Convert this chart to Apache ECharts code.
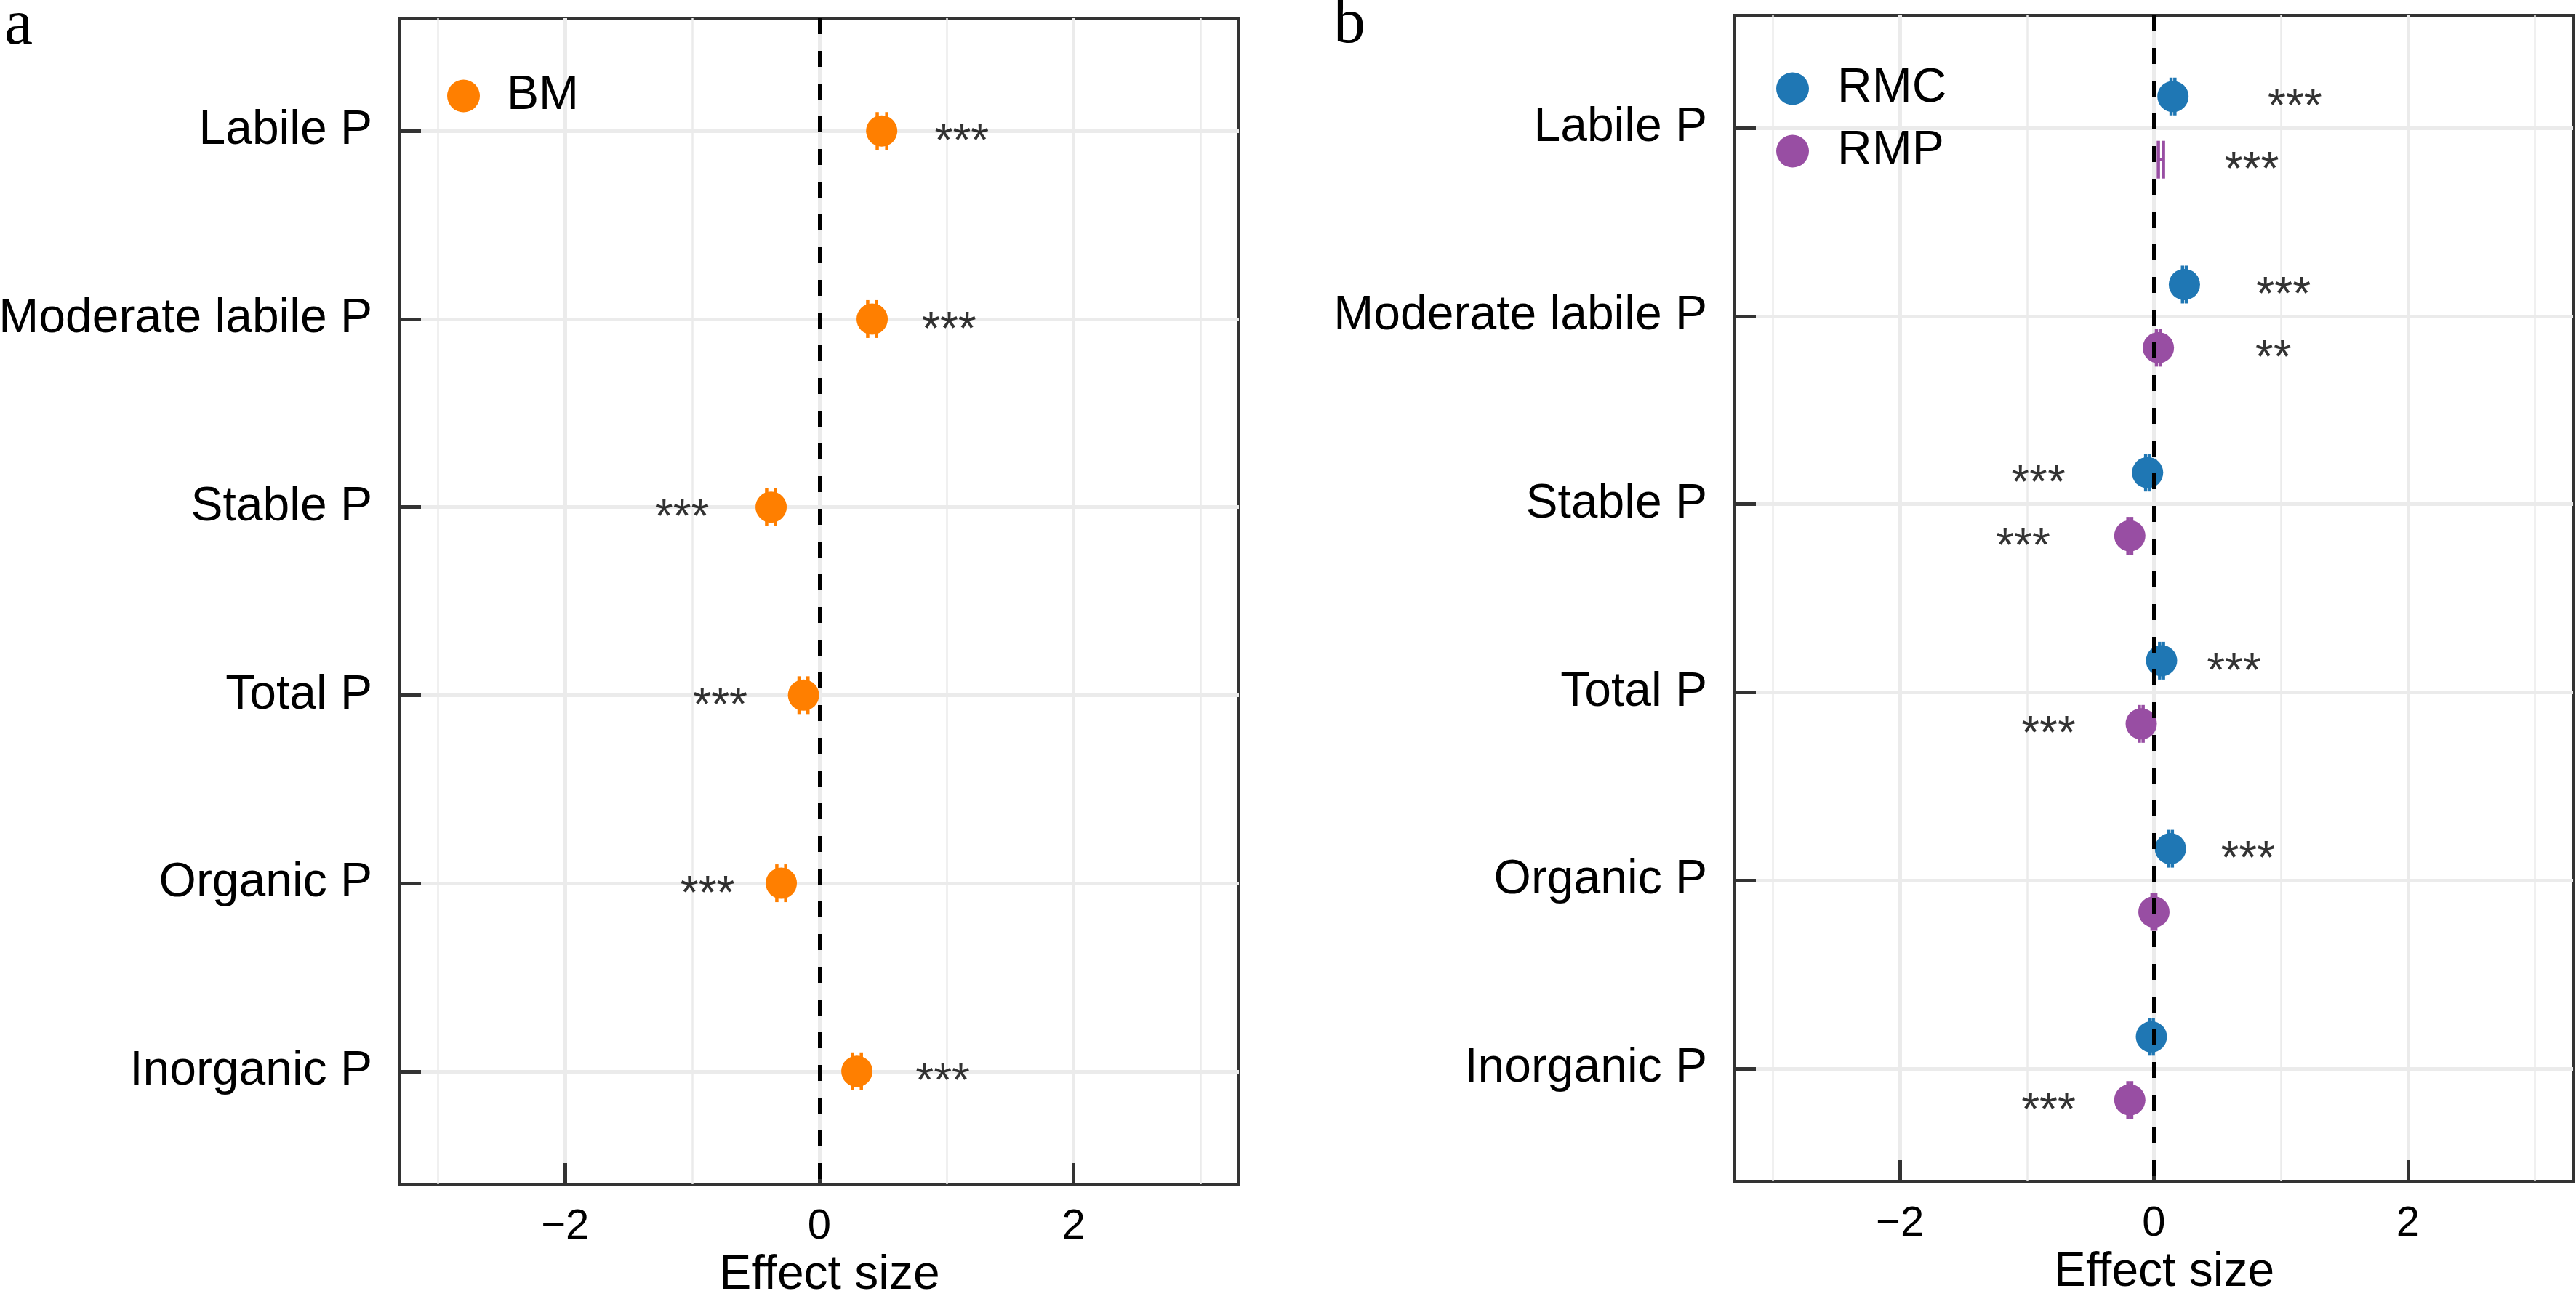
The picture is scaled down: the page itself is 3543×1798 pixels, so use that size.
<!DOCTYPE html>
<html>
<head>
<meta charset="utf-8">
<script src="https://cdn.jsdelivr.net/npm/echarts@6/dist/echarts.min.js"></script>
<style>
html,body{margin:0;padding:0;background:#fff;}
#chart{width:3543px;height:1798px;}
</style>
</head>
<body>
<div id="chart"></div>
<script>
// ---------------- data ----------------
const categories = ['Labile P', 'Moderate labile P', 'Stable P', 'Total P', 'Organic P', 'Inorganic P'];
const xTicks = [-2, 0, 2];
const xMinorTicks = [-3, -1, 1, 3];
const yTicks = [1, 2, 3, 4, 5, 6];

// panel a: BM
const bmMean = [0.49, 0.415, -0.38, -0.125, -0.30, 0.295];
const bmLow  = [0.455, 0.38, -0.415, -0.16, -0.335, 0.26];
const bmHigh = [0.53, 0.45, -0.345, -0.09, -0.265, 0.33];
const bmSig  = ['***', '***', '***', '***', '***', '***'];
const bmSigX = [1.12, 1.02, -1.08, -0.78, -0.88, 0.97];

// panel b: RMC
const rmcMean = [0.15, 0.24, -0.05, 0.06, 0.13, -0.02];
const rmcLow  = [0.135, 0.225, -0.065, 0.045, 0.115, -0.035];
const rmcHigh = [0.165, 0.255, -0.035, 0.075, 0.145, -0.005];
const rmcSig  = ['***', '***', '***', '***', '***', ''];
const rmcSigX = [1.11, 1.02, -0.91, 0.63, 0.74, null];

// panel b: RMP
const rmpMean = [null, 0.035, -0.19, -0.10, 0.00, -0.19];
const rmpLow  = [0.035, 0.02, -0.205, -0.115, -0.015, -0.205];
const rmpHigh = [0.075, 0.05, -0.175, -0.085, 0.015, -0.175];
const rmpSig  = ['***', '**', '***', '***', '', '***'];
const rmpSigX = [0.77, 0.94, -1.03, -0.83, null, -0.83];

// ---------------- style ----------------
const SANS = 'Liberation Sans';
const SERIF = 'Liberation Serif';
const ORANGE = '#FF7F00';
const BLUE = '#1F77B4';
const PURPLE = '#984EA3';
const DODGE = 0.168;

function fmtX(v) { return v < 0 ? '\u2212' + Math.abs(v) : String(v); }

function xMain(gridIndex) {
  return {
    type: 'value', gridIndex: gridIndex, min: -3.3, max: 3.3,
    axisLine: { show: false, onZero: false },
    axisTick: { show: true, inside: true, length: 29, customValues: xTicks,
      lineStyle: { color: '#333', width: 5 } },
    axisLabel: { show: true, customValues: xTicks, margin: 30, formatter: fmtX,
      fontFamily: SANS, fontSize: 58, color: '#000' },
    splitLine: { show: true, lineStyle: { color: '#ebebeb', width: 5 } },
    name: 'Effect size', nameLocation: 'middle', nameGap: 90,
    nameTextStyle: { fontFamily: SANS, fontSize: 66, color: '#000', padding: [0, 0, 0, 28] }
  };
}
function xMinor(gridIndex) {
  return {
    type: 'value', gridIndex: gridIndex, min: -3.3, max: 3.3,
    axisLine: { show: false, onZero: false },
    axisTick: { show: false, customValues: xMinorTicks },
    axisLabel: { show: false, customValues: xMinorTicks },
    splitLine: { show: true, lineStyle: { color: '#ebebeb', width: 2.5 } }
  };
}
function yAxisFor(gridIndex) {
  return {
    type: 'value', gridIndex: gridIndex, min: 0.4, max: 6.6, inverse: true,
    position: 'left',
    axisLine: { show: false, onZero: false },
    axisTick: { show: true, inside: true, length: 29, customValues: yTicks,
      lineStyle: { color: '#333', width: 5 } },
    axisLabel: { show: true, customValues: yTicks, margin: 38,
      formatter: function (v) { return categories[Math.round(v) - 1]; },
      fontFamily: SANS, fontSize: 66, color: '#000', padding: [0, 0, 6, 0] },
    splitLine: { show: true, lineStyle: { color: '#ebebeb', width: 5 } }
  };
}

function errRender(color) {
  return function (params, api) {
    const y = api.value(2);
    const lo = api.coord([api.value(0), y]);
    const hi = api.coord([api.value(1), y]);
    const h = 26;
    const st = { stroke: color, lineWidth: 4.5 };
    return {
      type: 'group',
      children: [
        { type: 'line', shape: { x1: lo[0], y1: lo[1], x2: hi[0], y2: hi[1] }, style: st },
        { type: 'line', shape: { x1: lo[0], y1: lo[1] - h, x2: lo[0], y2: lo[1] + h }, style: st },
        { type: 'line', shape: { x1: hi[0], y1: hi[1] - h, x2: hi[0], y2: hi[1] + h }, style: st }
      ]
    };
  };
}

const zeroLine = {
  silent: true, symbol: ['none', 'none'], label: { show: false },
  lineStyle: { color: '#000', width: 5, type: [22, 23] },
  data: [{ xAxis: 0 }]
};

function errSeries(name, xi, yi, low, high, offset, color, withZero) {
  const s = {
    type: 'custom', name: name, xAxisIndex: xi, yAxisIndex: yi, z: 2,
    renderItem: errRender(color),
    encode: { x: [0, 1], y: 2 },
    data: categories.map(function (c, i) { return [low[i], high[i], i + 1 + offset]; })
  };
  if (withZero) s.markLine = zeroLine;
  return s;
}
function ptSeries(name, xi, yi, mean, offset, color) {
  return {
    type: 'scatter', name: name, xAxisIndex: xi, yAxisIndex: yi, z: 3,
    symbol: 'circle', symbolSize: 43, itemStyle: { color: color, opacity: 1 },
    data: categories.map(function (c, i) {
      return [mean[i] === null ? '-' : mean[i], i + 1 + offset];
    })
  };
}
function sigSeries(name, xi, yi, sig, sigX, offset) {
  const d = [];
  categories.forEach(function (c, i) {
    if (sig[i]) d.push({ value: [sigX[i], i + 1 + offset], sig: sig[i] });
  });
  return {
    type: 'scatter', name: name, xAxisIndex: xi, yAxisIndex: yi, z: 4,
    symbolSize: 1, itemStyle: { color: 'rgba(0,0,0,0)' }, silent: true,
    label: { show: true, position: 'inside', offset: [0, 17],
      formatter: function (p) { return p.data.sig; },
      fontFamily: SANS, fontSize: 64, color: '#000' },
    data: d
  };
}

const option = {
  animation: false,
  backgroundColor: '#fff',
  title: [
    { text: 'a', left: 6, top: -7, padding: 0,
      textStyle: { fontFamily: SERIF, fontSize: 88, fontWeight: 'normal', color: '#000' } },
    { text: 'b', left: 1834, top: -9, padding: 0,
      textStyle: { fontFamily: SERIF, fontSize: 88, fontWeight: 'normal', color: '#000' } }
  ],
  legend: [
    { data: ['BM'], orient: 'vertical', left: 615, top: 99, padding: 0,
      icon: 'circle', itemWidth: 45, itemHeight: 45, selectedMode: false,
      textStyle: { fontFamily: SANS, fontSize: 66, color: '#000', padding: [0, 0, 0, 32] } },
    { data: ['RMC', 'RMP'], orient: 'vertical', left: 2443, top: 89, padding: 0, itemGap: 20,
      icon: 'circle', itemWidth: 45, itemHeight: 45, selectedMode: false,
      textStyle: { fontFamily: SANS, fontSize: 66, color: '#000', padding: [0, 0, 0, 34] } }
  ],
  grid: [
    { left: 550, top: 25, width: 1154, height: 1604, show: true, containLabel: false,
      outerBoundsMode: 'none',
      borderColor: '#333', borderWidth: 4, backgroundColor: 'transparent' },
    { left: 2386, top: 21, width: 1153, height: 1604, show: true, containLabel: false,
      outerBoundsMode: 'none',
      borderColor: '#333', borderWidth: 4, backgroundColor: 'transparent' }
  ],
  xAxis: [xMain(0), xMinor(0), xMain(1), xMinor(1)],
  yAxis: [yAxisFor(0), yAxisFor(1)],
  series: [
    errSeries('BM-ci', 0, 0, bmLow, bmHigh, 0, ORANGE, true),
    ptSeries('BM', 0, 0, bmMean, 0, ORANGE),
    sigSeries('BM-sig', 0, 0, bmSig, bmSigX, 0),

    errSeries('RMC-ci', 2, 1, rmcLow, rmcHigh, -DODGE, BLUE, true),
    errSeries('RMP-ci', 2, 1, rmpLow, rmpHigh, DODGE, PURPLE, false),
    ptSeries('RMC', 2, 1, rmcMean, -DODGE, BLUE),
    ptSeries('RMP', 2, 1, rmpMean, DODGE, PURPLE),
    sigSeries('RMC-sig', 2, 1, rmcSig, rmcSigX, -DODGE),
    sigSeries('RMP-sig', 2, 1, rmpSig, rmpSigX, DODGE)
  ]
};

const chart = echarts.init(document.getElementById('chart'), null, { renderer: 'canvas' });
chart.setOption(option);
</script>
</body>
</html>
